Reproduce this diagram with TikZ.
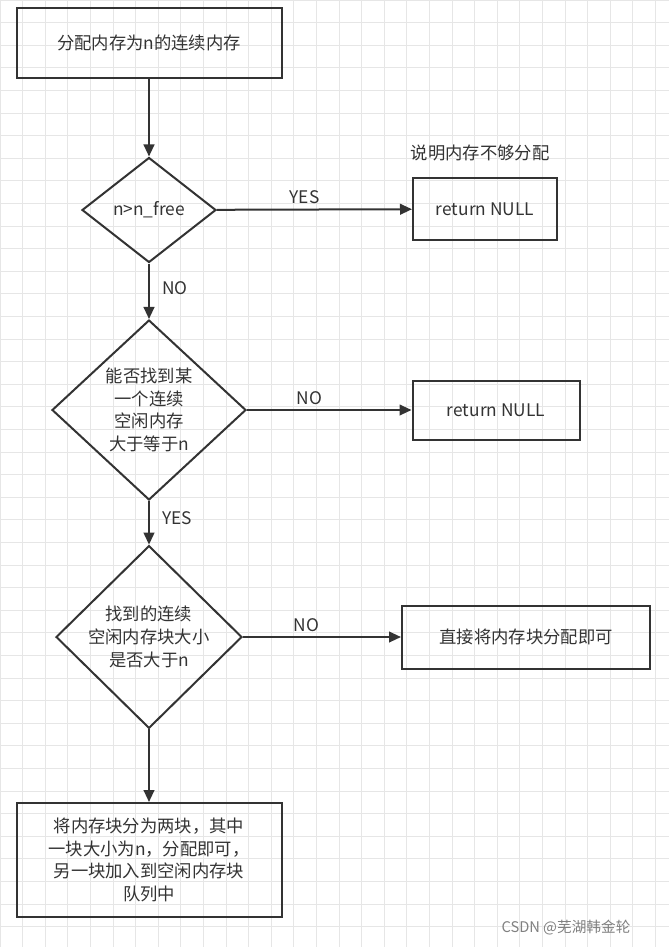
\documentclass[tikz,border=0pt]{standalone}
\usepackage{fontspec}
\setmainfont{Noto Sans CJK SC}
\usetikzlibrary{shapes.geometric,arrows.meta}
\definecolor{linec}{HTML}{333333}
\definecolor{gridc}{HTML}{E6E6E6}
\tikzset{
  box/.style={draw=linec,line width=1.5pt,rectangle,align=center,inner sep=0pt},
  dia/.style={draw=linec,line width=1.5pt,diamond,align=center,inner sep=0pt},
  flow/.style={draw=linec,line width=1.5pt,-{Triangle[length=9pt,width=8pt]}},
  lab/.style={font=\fontsize{13}{16}\selectfont}
}
\begin{document}
\begin{tikzpicture}[x=0.75pt,y=-0.75pt,font=\fontsize{13}{17}\selectfont,text=linec]
\useasboundingbox (0,0) rectangle (669,947);
\fill[white] (0,0) rectangle (669,947);
\foreach \i in {0,...,30} \draw[gridc,line width=0.5pt] (\i*22.6,0) -- (\i*22.6,947);
\foreach \j in {0,...,42} \draw[gridc,line width=0.5pt] (0,\j*22.6) -- (669,\j*22.6);

\node[box,minimum width=265*0.75pt,minimum height=70*0.75pt] (start) at (149,43) {分配内存为n的连续内存};
\node[dia,minimum width=134*0.75pt,minimum height=105*0.75pt] (d1) at (149,210) {n>n\_free};
\node[box,minimum width=144*0.75pt,minimum height=62*0.75pt] (r1) at (485,209) {return NULL};
\node[lab] (note) at (480,153) {说明内存不够分配};
\node[dia,minimum width=194*0.75pt,minimum height=180*0.75pt] (d2) at (149,410) {能否找到某\\一个连续\\空闲内存\\大于等于n};
\node[box,minimum width=167*0.75pt,minimum height=59*0.75pt] (r2) at (496,410) {return NULL};
\node[dia,minimum width=186*0.75pt,minimum height=155*0.75pt] (d3) at (149,637) {找到的连续\\空闲内存块大小\\是否大于n};
\node[box,minimum width=248*0.75pt,minimum height=63*0.75pt] (alloc) at (526,637) {直接将内存块分配即可};
\node[box,minimum width=265*0.75pt,minimum height=114*0.75pt] (split) at (149,860) {将内存块分为两块，其中\\一块大小为n，分配即可，\\另一块加入到空闲内存块\\队列中};

\draw[flow] (start) -- (d1);
\draw[flow] (d1) -- node[lab,above,pos=0.45] {YES} (r1);
\draw[flow] (d1) -- node[lab,right,xshift=6pt,pos=0.45] {NO} (d2);
\draw[flow] (d2) -- node[lab,above,pos=0.38] {NO} (r2);
\draw[flow] (d2) -- node[lab,right,xshift=6pt,pos=0.4] {YES} (d3);
\draw[flow] (d3) -- node[lab,above,pos=0.4] {NO} (alloc);
\draw[flow] (d3) -- (split);

\node[text=gray,font=\fontsize{11}{13}\selectfont] (wm) at (566,928) {CSDN @芜湖韩金轮};
\end{tikzpicture}
\end{document}
